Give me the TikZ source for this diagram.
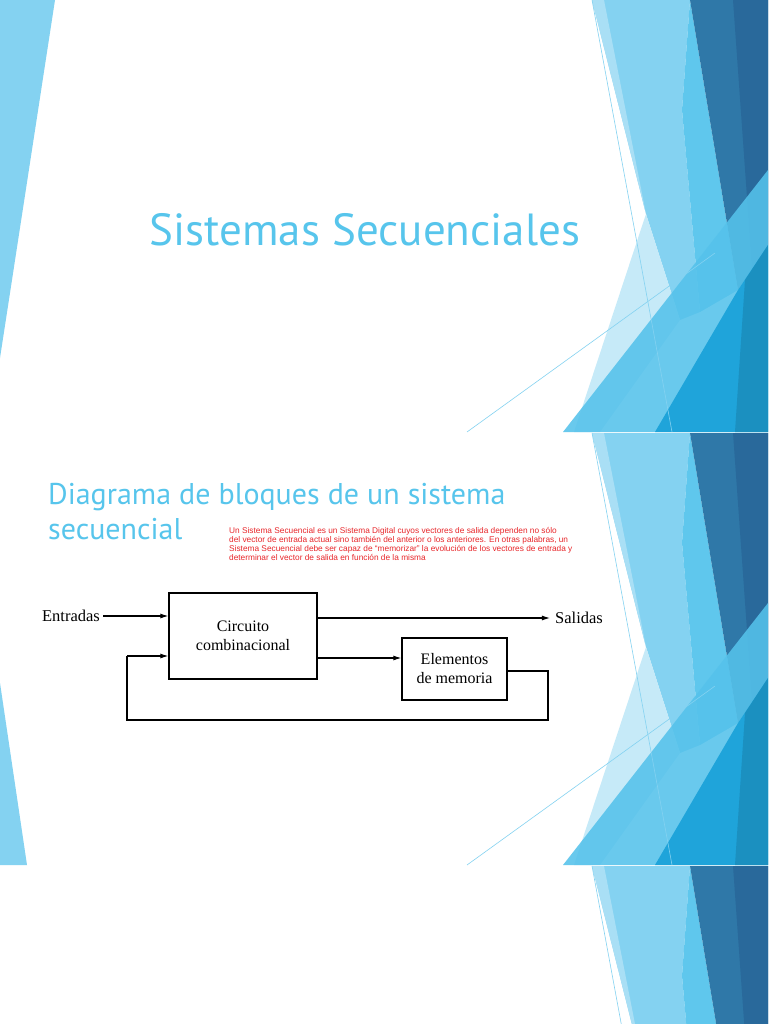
\documentclass[tikz,border=0pt]{standalone}
\usepackage{fontspec}
\setmainfont{Liberation Serif}
\newfontfamily\titulo{PT Sans}
\newfontfamily\arial{Liberation Sans}
\usetikzlibrary{arrows.meta,positioning}

\definecolor{azultit}{HTML}{57C5EC}
\definecolor{claro}{HTML}{84D2F1}
\definecolor{muyclaro}{HTML}{C6EAF8}
\definecolor{medio}{HTML}{5FC7ED}
\definecolor{oscuro}{HTML}{2F78A8}
\definecolor{masoscuro}{HTML}{29699B}
\definecolor{cian}{HTML}{55C2EB}
\definecolor{ciandeep}{HTML}{1FA4DA}
\definecolor{rojo}{HTML}{E8262A}

\tikzset{
  bloque/.style={draw, line width=1.3pt, minimum width=148pt, minimum height=86pt,
    align=center, font=\fontsize{16}{19}\selectfont},
  etiqueta/.style={font=\fontsize{16.5}{19}\selectfont, inner sep=0pt},
  flecha/.style={line width=1.1pt, -{Latex[length=8pt,width=5pt]}},
  linea/.style={line width=1.1pt},
  hilo/.style={draw=claro, line width=0.6pt}
}

% decoracion de la derecha de cada diapositiva
\newcommand{\facetas}[1]{
  \begin{scope}[shift={(0,#1)}]
    \fill[claro] (592,0) -- (690,0) -- (682,110) -- (700,312) -- (680,320) -- (646,214) -- cycle;
    \fill[claro!70!white] (592,0) -- (604,0) -- (646,214) -- cycle;
    \fill[muyclaro] (646,214) -- (680,320) -- (600,432) -- (574,432) -- cycle;
    \fill[medio] (690,0) -- (738,290) -- (700,312) -- (682,110) -- cycle;
    \fill[oscuro] (690,0) -- (768,0) -- (768,245) -- (738,290) -- cycle;
    \fill[masoscuro] (733,0) -- (768,0) -- (768,245) -- (752,268) -- cycle;
    \fill[cian, opacity=0.88] (563,432) -- (768,170) -- (768,432) -- cycle;
    \fill[ciandeep] (655,432) -- (738,290) -- (768,245) -- (768,432) -- cycle;
    \fill[ciandeep!88!black] (735,432) -- (745,280) -- (768,245) -- (768,432) -- cycle;
    \draw[hilo] (592,0) -- (672,432);
    \draw[hilo] (467,432) -- (715,253);
  \end{scope}
}

\begin{document}
\begin{tikzpicture}[x=1pt,y=-1pt]
\useasboundingbox (0,0) rectangle (768,1024);
\clip (0,0) rectangle (768,1024);
\fill[white] (0,0) rectangle (768,1024);

% diapositiva 1
\fill[claro] (0,0) -- (55,0) -- (0,358) -- cycle;
\facetas{0}
\node[font=\titulo\fontsize{45}{50}\selectfont, text=azultit, anchor=base] (tit) at (365,245) {Sistemas Secuenciales};

% diapositiva 2
\fill[claro] (0,683) -- (27,865) -- (0,865) -- cycle;
\facetas{433}
\node[font=\titulo\fontsize{30}{35}\selectfont, text=azultit, anchor=base west, inner sep=0pt] (sub1) at (48,504) {Diagrama de bloques de un sistema};
\node[font=\titulo\fontsize{30}{35}\selectfont, text=azultit, anchor=base west, inner sep=0pt] (sub2) at (48,539) {secuencial};
\node[font=\arial\fontsize{8.3}{9}\selectfont, text=rojo, anchor=north west, align=left, inner sep=0pt] (texto) at (229,527)
  {Un Sistema Secuencial es un Sistema Digital cuyos vectores de salida dependen no sólo\\
   del vector de entrada actual sino también del anterior o los anteriores. En otras palabras, un\\
   Sistema Secuencial debe ser capaz de “memorizar” la evolución de los vectores de entrada y\\
   determinar el vector de salida en función de la misma};

% diagrama de bloques
\node[bloque] (circ) at (243,636) {Circuito\\combinacional};
\node[bloque, minimum width=105pt, minimum height=62pt] (mem) at (454.5,669) {Elementos\\de memoria};
\node[etiqueta] (ent) at (71,616) {Entradas};
\node[etiqueta] (sal) at (579,618) {Salidas};
\coordinate (m) at (0,658);
\coordinate (r) at (0,656);
\coordinate (e1) at (548,671);
\coordinate (e2) at (548,720);
\coordinate (e3) at (127,720);
\draw[flecha] ([xshift=3pt]ent.east) -- (ent.east -| circ.west);
\draw[flecha] (circ.east |- sal.west) -- ([xshift=-5pt]sal.west);
\draw[flecha] (circ.east |- m) -- (mem.west |- m);
\draw[linea] (mem.east |- e1) -- (e1) -- (e2) -- (e3) -- (e3 |- r);
\draw[flecha] (e3 |- r) -- (circ.west |- r);

% diapositiva 3
\facetas{866}
\end{tikzpicture}
\end{document}
